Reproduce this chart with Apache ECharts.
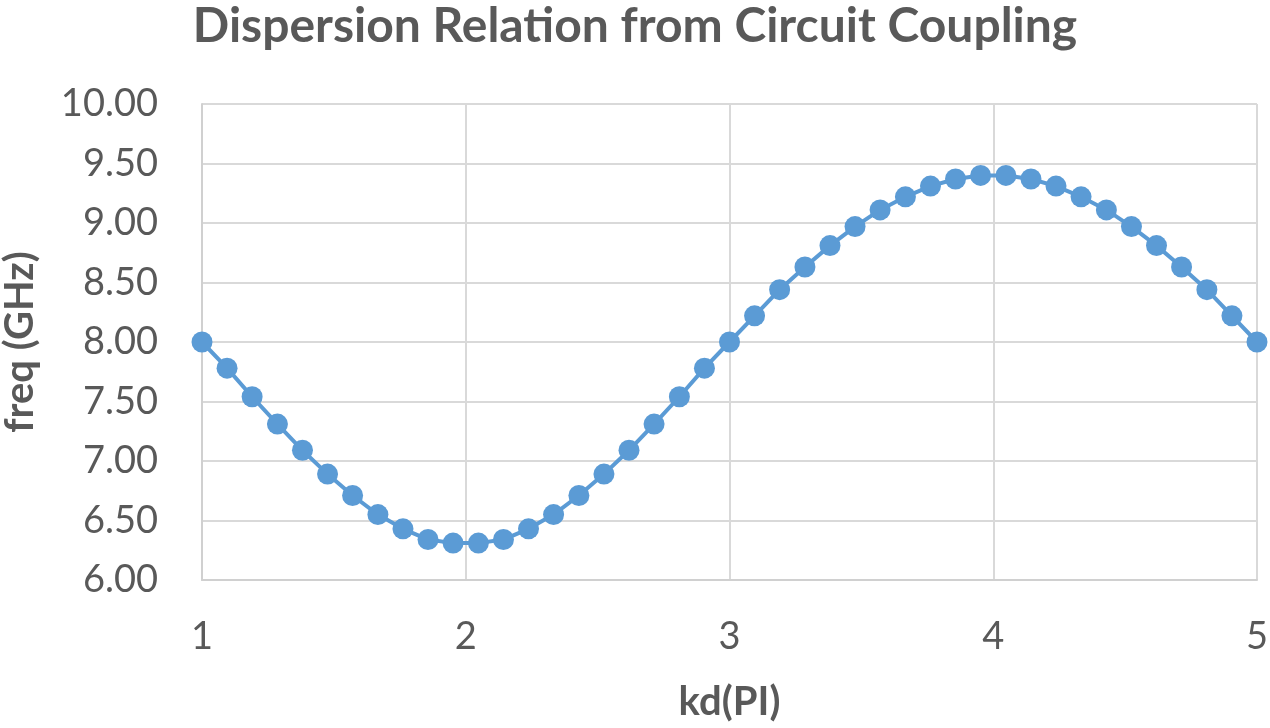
<!DOCTYPE html>
<html>
<head>
<meta charset="utf-8">
<script src="https://cdn.jsdelivr.net/npm/echarts@6/dist/echarts.min.js"></script>
<style>html,body{margin:0;padding:0;background:#fff;}#c{width:1270px;height:728px;}</style>
</head>
<body>
<div id="c"></div>
<script>
var titleText = 'Dispersion Relation from Circuit Coupling';
var xName = 'kd(PI)';
var yName = 'freq (GHz)';
var kd = [1, 1.095, 1.190, 1.286, 1.381, 1.476, 1.571, 1.667, 1.762, 1.857, 1.952,
          2.048, 2.143, 2.238, 2.333, 2.429, 2.524, 2.619, 2.714, 2.810, 2.905, 3,
          3.095, 3.190, 3.286, 3.381, 3.476, 3.571, 3.667, 3.762, 3.857, 3.952,
          4.048, 4.143, 4.238, 4.333, 4.429, 4.524, 4.619, 4.714, 4.810, 4.905, 5];
var freq = [8.00, 7.78, 7.54, 7.31, 7.09, 6.89, 6.71, 6.55, 6.43, 6.34, 6.31,
            6.31, 6.34, 6.43, 6.55, 6.71, 6.89, 7.09, 7.31, 7.54, 7.78, 8.00,
            8.22, 8.44, 8.63, 8.81, 8.97, 9.11, 9.22, 9.31, 9.37, 9.40,
            9.40, 9.37, 9.31, 9.22, 9.11, 8.97, 8.81, 8.63, 8.44, 8.22, 8.00];

var pts = kd.map(function (x, i) { return [x, freq[i]]; });
var font = 'Lato, "Open Sans", sans-serif';
var chart = echarts.init(document.getElementById('c'));
chart.setOption({
  animation: false,
  backgroundColor: '#ffffff',
  title: {
    text: titleText, left: 'center', top: -2,
    textStyle: { fontFamily: font, fontSize: 48, fontWeight: 'bold', color: '#595959' }
  },
  grid: { left: 202, right: 13, top: 104, bottom: 148, containLabel: false, outerBoundsMode: 'none' },
  xAxis: {
    type: 'value', min: 1, max: 5, interval: 1,
    name: xName, nameLocation: 'middle', nameGap: 102,
    nameTextStyle: { fontFamily: font, fontSize: 40, fontWeight: 'bold', color: '#595959' },
    axisLine: { show: true, lineStyle: { color: '#d0d0d0', width: 2 } },
    axisTick: { show: false },
    axisLabel: { fontFamily: font, fontSize: 38, color: '#595959', margin: 38 },
    splitLine: { show: true, lineStyle: { color: '#d9d9d9', width: 2 } }
  },
  yAxis: {
    type: 'value', min: 6, max: 10, interval: 0.5,
    name: yName, nameLocation: 'middle', nameGap: 162,
    nameTextStyle: { fontFamily: font, fontSize: 40, fontWeight: 'bold', color: '#595959' },
    axisLine: { show: true, lineStyle: { color: '#d0d0d0', width: 2 } },
    axisTick: { show: false },
    axisLabel: { fontFamily: font, fontSize: 38, color: '#595959', margin: 44,
      formatter: function (v) { return v.toFixed(2); } },
    splitLine: { show: true, lineStyle: { color: '#d9d9d9', width: 2 } }
  },
  series: [{
    type: 'line', data: pts,
    symbol: 'circle', symbolSize: 21,
    lineStyle: { color: '#5b9bd5', width: 4 },
    itemStyle: { color: '#5b9bd5' }
  }]
});
</script>
</body>
</html>
